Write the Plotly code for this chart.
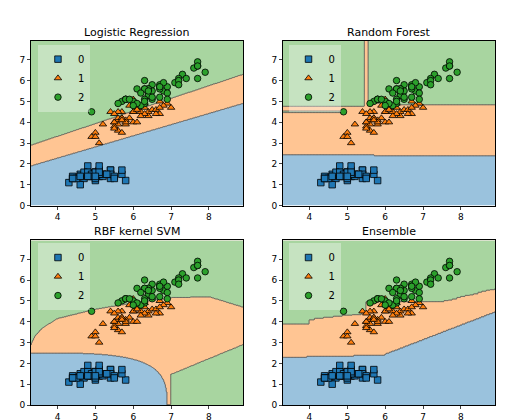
import numpy as np
import plotly.graph_objects as go
from plotly.subplots import make_subplots

# Iris: sepal length (x) vs petal length (y)
x0 = [5.1,4.9,4.7,4.6,5.0,5.4,4.6,5.0,4.4,4.9,5.4,4.8,4.8,4.3,5.8,5.7,5.4,5.1,5.7,5.1,5.4,5.1,4.6,5.1,4.8,5.0,5.0,5.2,5.2,4.7,4.8,5.4,5.2,5.5,4.9,5.0,5.5,4.9,4.4,5.1,5.0,4.5,4.4,5.0,5.1,4.8,5.1,4.6,5.3,5.0]
y0 = [1.4,1.4,1.3,1.5,1.4,1.7,1.4,1.5,1.4,1.5,1.5,1.6,1.4,1.1,1.2,1.5,1.3,1.4,1.7,1.5,1.7,1.5,1.0,1.7,1.9,1.6,1.6,1.5,1.4,1.6,1.6,1.5,1.5,1.4,1.5,1.2,1.3,1.4,1.3,1.5,1.3,1.3,1.3,1.6,1.9,1.4,1.6,1.4,1.5,1.4]
x1 = [7.0,6.4,6.9,5.5,6.5,5.7,6.3,4.9,6.6,5.2,5.0,5.9,6.0,6.1,5.6,6.7,5.6,5.8,6.2,5.6,5.9,6.1,6.3,6.1,6.4,6.6,6.8,6.7,6.0,5.7,5.5,5.5,5.8,6.0,5.4,6.0,6.7,6.3,5.6,5.5,5.5,6.1,5.8,5.0,5.6,5.7,5.7,6.2,5.1,5.7]
y1 = [4.7,4.5,4.9,4.0,4.6,4.5,4.7,3.3,4.6,3.9,3.5,4.2,4.0,4.7,3.6,4.4,4.5,4.1,4.5,3.9,4.8,4.0,4.9,4.7,4.3,4.4,4.8,5.0,4.5,3.5,3.8,3.7,3.9,5.1,4.5,4.5,4.7,4.4,4.1,4.0,4.4,4.6,4.0,3.3,4.2,4.2,4.2,4.3,3.0,4.1]
x2 = [6.3,5.8,7.1,6.3,6.5,7.6,4.9,7.3,6.7,7.2,6.5,6.4,6.8,5.7,5.8,6.4,6.5,7.7,7.7,6.0,6.9,5.6,7.7,6.3,6.7,7.2,6.2,6.1,6.4,7.2,7.4,7.9,6.4,6.3,6.1,7.7,6.3,6.4,6.0,6.9,6.7,6.9,5.8,6.8,6.7,6.7,6.3,6.5,6.2,5.9]
y2 = [6.0,5.1,5.9,5.6,5.8,6.6,4.5,6.3,5.8,6.1,5.1,5.3,5.5,5.0,5.1,5.3,5.5,6.7,6.9,5.0,5.7,4.9,6.7,4.9,5.7,6.0,4.8,4.9,5.6,5.8,6.1,6.4,5.6,5.1,5.6,6.1,5.6,5.5,4.8,5.4,5.6,5.1,5.1,5.9,5.7,5.2,5.0,5.2,5.4,5.1]
titles = ["Logistic Regression", "Random Forest", "RBF kernel SVM", "Ensemble"]
class_labels = ["0", "1", "2"]

gx = np.linspace(3.3, 8.9, 281)
gy = np.linspace(0, 7.9, 317)
X, Y = np.meshgrid(gx, gy)

def lr(X, Y):
    z = np.ones_like(X)
    z[Y < 1.9 + 0.536 * (X - 3.3)] = 0
    z[Y > 2.9 + 0.607 * (X - 3.3)] = 2
    return z

def rf(X, Y):
    z = np.ones_like(X)
    z[Y < np.where(X < 5.7, 2.45, 2.4)] = 0
    top = np.where(X < 5.45, 4.75, np.where(X < 6.0, 4.9, 4.85))
    g = Y > top
    g &= ~((X >= 5.45) & (X <= 5.55))
    g |= (X < 4.95) & (Y > 4.45) & (Y < 4.55)
    z[g] = 2
    return z

svm_top_x = [3.3, 3.4, 3.6, 4.0, 5.0, 6.0, 7.0, 8.0, 8.9]
svm_top_y = [2.9, 3.3, 3.7, 4.15, 4.6, 4.9, 5.15, 5.2, 4.7]

def svm(X, Y):
    z = np.full_like(X, 2.0)
    top = np.interp(X, svm_top_x, svm_top_y)
    bottom = np.where(X < 7.0, 0.0, 1.7 + 0.75 * (X - 7.3))
    z[(Y < top) & (Y > bottom)] = 1
    blue = (np.abs((X - 3.0) / 3.9) ** 4 + np.abs((Y + 0.5) / 3.0) ** 4) < 1
    z[blue] = 0
    return z

def ens(X, Y):
    z = np.ones_like(X)
    low = np.where(X < 6.0, 2.3 + 0.04 * (X - 3.3), 2.45 + 0.7 * (X - 6.0))
    low = np.round(low * 20) / 20
    z[Y < low] = 0
    hi = np.where(X < 4.0, 3.9, np.where(X < 5.5, 4.1 + 0.2 * (X - 4.0), np.where(X < 7.5, 4.95, 4.95 + 0.45 * (X - 7.5))))
    hi = np.round(hi * 20) / 20
    z[Y > hi] = 2
    return z

funcs = [lr, rf, svm, ens]
cs = [[0, "#9ac2dd"], [0.333, "#9ac2dd"], [0.334, "#ffc593"], [0.666, "#ffc593"], [0.667, "#a8d5a0"], [1, "#a8d5a0"]]
mcol = ["#1f77b4", "#ff7f0e", "#2ca02c"]
msym = ["square", "triangle-up", "circle"]
xs = [x0, x1, x2]; ys = [y0, y1, y2]

fig = make_subplots(rows=2, cols=2, subplot_titles=titles,
                    horizontal_spacing=0.086, vertical_spacing=0.096)
legnames = ["legend", "legend2", "legend3", "legend4"]
for i, f in enumerate(funcs):
    r, c = i // 2 + 1, i % 2 + 1
    fig.add_trace(go.Contour(x=gx, y=gy, z=f(X, Y), zmin=0, zmax=2, colorscale=cs,
                             showscale=False, contours=dict(start=0.5, end=1.5, size=1, coloring="fill"),
                             line=dict(color="#555555", width=1), hoverinfo="skip", showlegend=False), row=r, col=c)
    for k in range(3):
        fig.add_trace(go.Scatter(x=xs[k], y=ys[k], mode="markers", name=class_labels[k],
                                 marker=dict(color=mcol[k], symbol=msym[k], size=6.5,
                                             line=dict(color="black", width=0.8)),
                                 legend=legnames[i]), row=r, col=c)
    fig.update_xaxes(range=[3.3, 8.9], tickvals=[4, 5, 6, 7, 8], ticks="outside", ticklen=3,
                     showgrid=False, zeroline=False, showline=True, linecolor="black", mirror=True,
                     automargin=False, tickfont=dict(size=9, color="black"), row=r, col=c)
    fig.update_yaxes(range=[0, 7.9], tickvals=list(range(8)), ticks="outside", ticklen=3,
                     showgrid=False, zeroline=False, showline=True, linecolor="black", mirror=True,
                     automargin=False, tickfont=dict(size=9, color="black"), row=r, col=c)

fig.update_annotations(font=dict(size=11, color="black"))
legpos = [(0.015, 0.99), (0.555, 0.99), (0.015, 0.445), (0.555, 0.445)]
lay = {}
for i, nm in enumerate(legnames):
    lay[nm] = dict(x=legpos[i][0], y=legpos[i][1], xanchor="left", yanchor="top",
                   bgcolor="rgba(255,255,255,0.35)", font=dict(size=10, color="black"),
                   itemsizing="trace", tracegroupgap=0, itemwidth=30)
fig.update_layout(width=510, height=420, margin=dict(l=23, r=23, t=33, b=23),
                  plot_bgcolor="white", paper_bgcolor="white",
                  font=dict(family="DejaVu Sans"), **lay)
fig.write_html("out.html")
